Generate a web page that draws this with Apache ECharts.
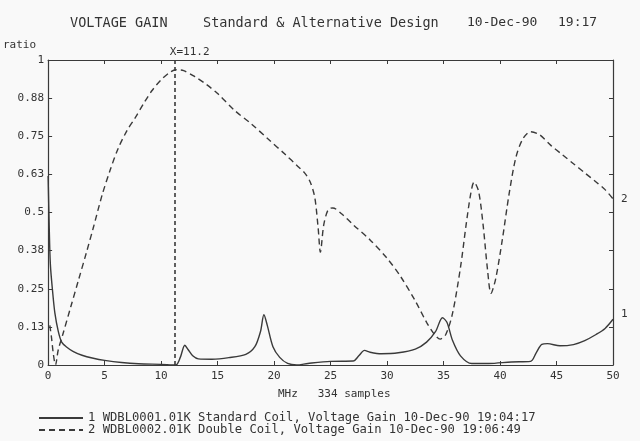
<!DOCTYPE html>
<html>
<head>
<meta charset="utf-8">
<script src="https://cdn.jsdelivr.net/npm/echarts@6/dist/echarts.min.js"></script>
<style>
  html, body { margin: 0; padding: 0; background: #f9f9f9; }
  #chart { width: 640px; height: 441px; }
</style>
</head>
<body>
<div id="chart"></div>
<script>
// trace 1: standard coil
var freq1 = [0, 0.1, 0.2, 0.4, 0.6, 0.9, 1.2, 1.6, 2.2, 3, 4, 5, 6.5, 8, 10, 11.3, 11.7, 12.1, 12.4, 12.8,
  13.3, 14.5, 16, 17.5, 18.3, 18.8, 19.1, 19.4, 19.9, 20.5, 21.2, 22, 23, 25, 27, 27.5, 28, 28.5, 29.5, 31,
  32.5, 33.5, 34.3, 34.9, 35.3, 35.8, 36.5, 37.5, 39, 41, 42.7, 43.2, 43.7, 44.2, 45.3, 46.5, 47.5, 48.5, 49.3, 50];
var gain1 = [0.62, 0.45, 0.33, 0.24, 0.17, 0.11, 0.075, 0.06, 0.045, 0.032, 0.022, 0.015, 0.008, 0.004, 0.002, 0.0, 0.025, 0.065, 0.05, 0.03,
  0.02, 0.019, 0.024, 0.035, 0.06, 0.11, 0.165, 0.13, 0.06, 0.025, 0.005, 0.0, 0.005, 0.012, 0.013, 0.03, 0.048, 0.042, 0.037, 0.04,
  0.052, 0.075, 0.11, 0.155, 0.14, 0.08, 0.03, 0.005, 0.005, 0.01, 0.012, 0.04, 0.068, 0.07, 0.063, 0.067, 0.08, 0.1, 0.12, 0.15];

// trace 2: double coil
var freq2 = [0.15, 0.3, 0.45, 0.65, 0.9, 1.3, 2, 2.7, 3.4, 4, 4.8, 5.5, 6.2, 7, 7.7, 8.5, 9.2, 10, 10.8, 11.3,
  12, 13, 14, 15, 16.5, 18, 19.5, 21, 22, 22.7, 23.2, 23.6, 23.9, 24.1, 24.4, 24.8, 25.2, 26, 27, 28.5,
  30, 31.2, 32.5, 33.5, 34.2, 34.7, 35.2, 35.8, 36.5, 37, 37.4, 37.7, 38.1, 38.5, 38.9, 39.2, 39.6, 40.2, 40.8, 41.4,
  42, 42.7, 43.5, 44.5, 45.5, 46.5, 47.5, 48.5, 49.3, 50];
var gain2 = [0.13, 0.09, 0.04, 0.0, 0.05, 0.1, 0.19, 0.28, 0.37, 0.45, 0.56, 0.64, 0.71, 0.77, 0.81, 0.86, 0.9, 0.935, 0.96, 0.968,
  0.965, 0.945, 0.92, 0.89, 0.835, 0.79, 0.74, 0.69, 0.655, 0.63, 0.6, 0.55, 0.45, 0.37, 0.46, 0.51, 0.515, 0.495, 0.46, 0.41,
  0.35, 0.29, 0.21, 0.14, 0.1, 0.085, 0.1, 0.17, 0.32, 0.46, 0.56, 0.6, 0.57, 0.46, 0.31, 0.235, 0.28, 0.41, 0.56, 0.68,
  0.74, 0.765, 0.755, 0.72, 0.69, 0.66, 0.63, 0.6, 0.575, 0.545];

var yTickLabels = ['0', '0.13', '0.25', '0.38', '0.5', '0.63', '0.75', '0.88', '1'];
var xTickLabels = ['0', '5', '10', '15', '20', '25', '30', '35', '40', '45', '50'];
var markerX = 11.2;

var traceNames = [
  '1 WDBL0001.01K Standard Coil, Voltage Gain 10-Dec-90 19:04:17',
  '2 WDBL0002.01K Double Coil, Voltage Gain 10-Dec-90 19:06:49'
];

var ink = '#3a3a3a';
var mono = 'DejaVu Sans Mono';

function pairs(xs, ys) {
  return xs.map(function (x, i) { return [x, ys[i]]; });
}

var chart = echarts.init(document.getElementById('chart'));

// frame lines on all four sides, ticks pointing into the plot
function frameLine() {
  return { show: true, onZero: false, lineStyle: { color: ink, width: 1.2 } };
}
function frameTick() {
  return { show: true, inside: true, length: 4, lineStyle: { color: ink } };
}

chart.setOption({
  backgroundColor: '#f9f9f9',
  animation: false,
  textStyle: { fontFamily: mono, color: '#333' },
  grid: { left: 46, right: 27, top: 60, bottom: 76 },
  graphic: [
    { type: 'text', left: 70, top: 16, style: { text: 'VOLTAGE GAIN', font: '13.5px ' + mono, fill: '#333' } },
    { type: 'text', left: 203, top: 16, style: { text: 'Standard & Alternative Design', font: '13.5px ' + mono, fill: '#333' } },
    { type: 'text', left: 467, top: 16, style: { text: '10-Dec-90', font: '13px ' + mono, fill: '#333' } },
    { type: 'text', left: 558, top: 16, style: { text: '19:17', font: '13px ' + mono, fill: '#333' } },
    { type: 'text', left: 278, top: 389, style: { text: 'MHz   334 samples', font: '11px ' + mono, fill: '#333' } }
  ],
  legend: {
    orient: 'vertical',
    left: 33,
    top: 407,
    itemWidth: 44,
    itemHeight: 12,
    itemGap: 0,
    itemStyle: { color: 'transparent', borderWidth: 0, opacity: 0 },
    textStyle: { fontFamily: mono, fontSize: 12.2, color: '#333', lineHeight: 12 },
    data: traceNames
  },
  xAxis: [{
    type: 'value', min: 0, max: 50, interval: 5, position: 'bottom',
    axisLine: frameLine(), axisTick: frameTick(), splitLine: { show: false },
    axisLabel: {
      color: '#333', fontFamily: mono, fontSize: 11, margin: 6,
      formatter: function (v) { return xTickLabels[Math.round(v / 5)]; }
    }
  }, {
    type: 'value', min: 0, max: 50, interval: 5, position: 'top',
    axisLine: frameLine(), axisTick: frameTick(), axisLabel: { show: false }, splitLine: { show: false }
  }],
  yAxis: [{
    type: 'value', min: 0, max: 1, interval: 0.125, position: 'left',
    name: 'ratio', nameLocation: 'end', nameGap: 9,
    nameTextStyle: { fontFamily: mono, fontSize: 11, color: '#333', align: 'right', padding: [0, 12, 0, 0] },
    axisLine: frameLine(), axisTick: frameTick(), splitLine: { show: false },
    axisLabel: {
      color: '#333', fontFamily: mono, fontSize: 11, margin: 4,
      formatter: function (v) { return yTickLabels[Math.round(v * 8)]; }
    }
  }, {
    type: 'value', min: 0, max: 1, interval: 0.125, position: 'right',
    axisLine: frameLine(), axisTick: frameTick(), axisLabel: { show: false }, splitLine: { show: false }
  }],
  series: [{
    name: traceNames[0],
    type: 'line',
    data: pairs(freq1, gain1),
    smooth: 0.3,
    symbol: 'none',
    lineStyle: { color: ink, width: 1.4 },
    itemStyle: { color: ink },
    endLabel: { show: true, formatter: '1', distance: 8, offset: [0, -5], fontFamily: mono, fontSize: 11, color: '#333' }
  }, {
    name: traceNames[1],
    type: 'line',
    data: pairs(freq2, gain2),
    smooth: 0.3,
    symbol: 'none',
    lineStyle: { color: ink, width: 1.4, type: [6, 4] },
    itemStyle: { color: ink },
    endLabel: { show: true, formatter: '2', distance: 8, fontFamily: mono, fontSize: 11, color: '#333' },
    markLine: {
      silent: true,
      symbol: 'none',
      lineStyle: { color: ink, width: 1.6, type: [4, 3] },
      label: {
        show: true, position: 'end', formatter: 'X=' + markerX, distance: 2,
        padding: [0, 0, 0, 30], fontFamily: mono, fontSize: 11, color: '#333'
      },
      data: [{ xAxis: markerX }]
    }
  }]
});
</script>
</body>
</html>
